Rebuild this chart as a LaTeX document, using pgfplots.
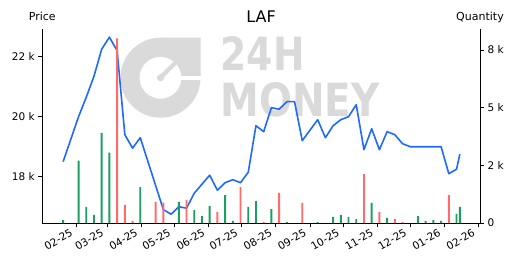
\documentclass[border=0pt]{standalone}
\usepackage{fontspec}
\setmainfont{DejaVu Sans}
\usepackage{pgfplots}
\pgfplotsset{compat=1.18}
\definecolor{pblue}{RGB}{30,105,255}
\definecolor{vgreen}{RGB}{26,158,98}
\definecolor{vred}{RGB}{255,107,107}
\definecolor{wm}{RGB}{218,218,218}
\pgfplotsset{
  common/.style={
    scale only axis,
    width=437.7pt, height=193.7pt,
    xmin=-30.9, xmax=366.3,
    tick align=outside, major tick length=4pt,
    tick style={black, line width=0.8pt},
    axis line style={-, black, line width=0.8pt},
    every tick label/.append style={font=\fontsize{10.5}{12}\selectfont},
    /pgf/number format/assume math mode=true,
    scaled y ticks=false,
    clip=false,
  }
}
\begin{document}
\begin{tikzpicture}
% price axis
\begin{axis}[common,
  ymin=16457, ymax=22913,
  axis x line*=bottom, axis y line*=left,
  xtick={0,28,59,89,120,150,181,212,242,273,303,334,365},
  xticklabels={02-25,03-25,04-25,05-25,06-25,07-25,08-25,09-25,10-25,11-25,12-25,01-26,02-26},
  xticklabel style={xshift=-6pt, yshift=1.5pt, rotate=30, anchor=north east, inner sep=2pt},
  ytick={18000,20000,22000},
  yticklabels={18 k,20 k,22 k},
]
\coordinate (sw) at (rel axis cs:0,0);
% watermark
\fill[wm,even odd rule] ([shift={(118.2pt,145.3pt)}]rel axis cs:0,0) circle (40pt) ([shift={(118.2pt,145.3pt)}]rel axis cs:0,0) circle (21pt);
\fill[wm] ([shift={(139.2pt,145.3pt)}]rel axis cs:0,0) -- ([shift={(158.2pt,145.3pt)}]rel axis cs:0,0) -- ([shift={(158.2pt,185.3pt)}]rel axis cs:0,0) -- ([shift={(118.2pt,185.3pt)}]rel axis cs:0,0) -- ([shift={(118.2pt,166.3pt)}]rel axis cs:0,0) arc[start angle=90,end angle=0,radius=21pt] -- cycle;
\fill[white] ([shift={(121pt,143.2pt)}]rel axis cs:0,0) rectangle ([shift={(159.7pt,147.4pt)}]rel axis cs:0,0);
\fill[wm] ([shift={(118.2pt,145.3pt)}]rel axis cs:0,0) circle (3.6pt);
\draw[wm,line width=4.2pt,line cap=round] ([shift={(118.2pt,145.3pt)}]rel axis cs:0,0) -- ([shift={(136.7pt,163.8pt)}]rel axis cs:0,0);
\fill[wm] ([shift={(145.7pt,172.8pt)}]rel axis cs:0,0) -- ([shift={(129.7pt,169pt)}]rel axis cs:0,0) -- ([shift={(141.7pt,157pt)}]rel axis cs:0,0) -- cycle;
\node[anchor=south west, inner sep=0, text=wm] at ([shift={(178.2pt,152pt)}]rel axis cs:0,0) {\resizebox{84pt}{34pt}{\bfseries 24H}};
\node[anchor=south west, inner sep=0, text=wm] at ([shift={(178.2pt,106pt)}]rel axis cs:0,0) {\resizebox{159pt}{34pt}{\bfseries MONEY}};
\addplot[pblue, line width=1.6pt, line join=round, mark=none] coordinates {
(-12,18500) (-5,19250) (2,20000) (9,20650) (16,21350) (23,22250) (30,22650) (37,22200)
(44,19400) (51,18950) (58,19300) (65,18500) (72,17700) (79,16900) (86,16750) (93,17000)
(100,16950) (107,17450) (114,17750) (121,18050) (128,17550) (135,17800) (142,17900) (149,17800)
(156,18150) (163,19700) (170,19500) (177,20300) (184,20250) (191,20500) (198,20500) (205,19200)
(212,19550) (219,19900) (226,19300) (233,19700) (240,19900) (247,20000) (254,20400) (261,18900)
(268,19600) (275,18900) (282,19500) (289,19400) (296,19100) (303,19000) (310,19000) (317,19000)
(324,19000) (331,19000) (338,18100) (345,18250) (348,18750)
};
\node[anchor=base, font=\fontsize{11}{13}\selectfont] at (rel axis cs:0,1) [yshift=8.6pt] {Price};
\node[anchor=base, font=\fontsize{16}{18}\selectfont] at (rel axis cs:0.5,1) [yshift=6.6pt] {LAF};
\end{axis}
% quantity axis
\begin{axis}[common,
  ymin=0, ymax=8393,
  axis x line=none, axis y line*=right,
  ytick={0,2500,5000,7500},
  yticklabels={0,2 k,5 k,8 k},
]
\addplot[ybar, bar shift=0pt, bar width=1.9pt, fill=vgreen, draw=none] coordinates {
(-12,130) (2,2700) (9,700) (16,350) (23,3900) (30,3050) (58,1550) (93,920) (107,560)
(114,300) (121,740) (135,1210) (142,90) (156,700) (163,950) (177,600) (191,40) (219,40)
(233,260) (240,350) (247,260) (254,170) (268,870) (282,220) (310,300) (317,90) (324,130)
(331,90) (345,390) (348,700)
};
\addplot[ybar, bar shift=0pt, bar width=1.9pt, fill=vred, draw=none] coordinates {
(37,8000) (44,780) (51,90) (72,920) (79,880) (100,1000) (128,480) (149,1550) (170,40)
(184,1300) (205,870) (261,2120) (275,480) (289,170) (296,40) (338,1210)
};
\node[anchor=base, font=\fontsize{11}{13}\selectfont] at (rel axis cs:1,1) [yshift=8.6pt] {Quantity};
\end{axis}
\pgfresetboundingbox
\path[use as bounding box] ([shift={(-42.3pt,-45pt)}]sw) rectangle ([shift={(474.7pt,223pt)}]sw);
\end{tikzpicture}
\end{document}
